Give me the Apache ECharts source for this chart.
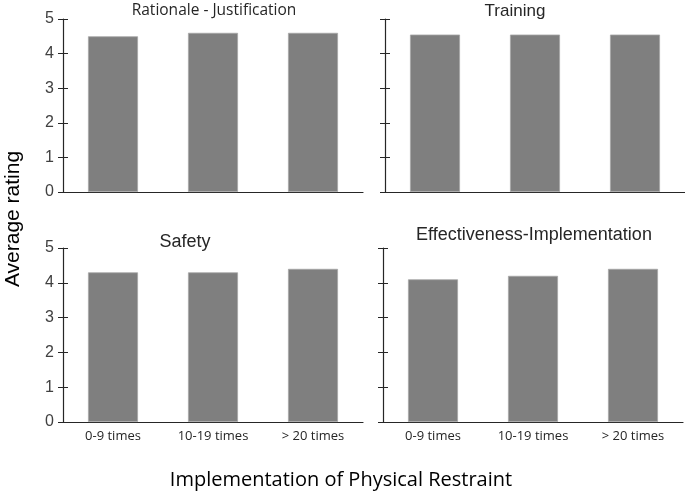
<!DOCTYPE html>
<html>
<head>
<meta charset="utf-8">
<script src="https://cdn.jsdelivr.net/npm/echarts@6/dist/echarts.min.js"></script>
<style>
  html, body { margin: 0; padding: 0; background: #fff; }
  #chart { width: 685px; height: 493px; }
</style>
</head>
<body>
<div id="chart"></div>
<script>
const categories = ['0-9 times', '10-19 times', '> 20 times'];
const panelTitles = ['Rationale - Justification', 'Training', 'Safety', 'Effectiveness-Implementation'];
const rationale = [4.5, 4.6, 4.6];
const training = [4.55, 4.55, 4.55];
const safety = [4.3, 4.3, 4.4];
const effectiveness = [4.1, 4.2, 4.4];
const yTicks = [0, 1, 2, 3, 4, 5];

const panelData = [rationale, training, safety, effectiveness];

// grid boxes for the 2x2 panels
const grids = [
  { left: 63, top: 19, width: 300, height: 173 },
  { left: 385, top: 19, width: 300, height: 173 },
  { left: 63, top: 248, width: 300, height: 174 },
  { left: 383, top: 248, width: 300, height: 174 }
];

const axisColor = '#262626';
const xAxis = [], yAxis = [], series = [];

grids.forEach((g, i) => {
  const bottomRow = i >= 2;
  const leftCol = i % 2 === 0;
  xAxis.push({
    gridIndex: i,
    type: 'category',
    data: categories,
    axisLine: { lineStyle: { color: axisColor, width: 1.2 } },
    axisTick: { show: false },
    axisLabel: {
      show: bottomRow,
      color: '#262626',
      fontFamily: 'Open Sans',
      fontSize: 13,
      margin: 8
    }
  });
  // outer ticks + labels
  yAxis.push({
    gridIndex: i,
    type: 'value',
    min: 0, max: 5, interval: 1,
    splitLine: { show: false },
    axisLine: { show: true, lineStyle: { color: axisColor, width: 1.2 } },
    axisTick: { show: true, length: 5, lineStyle: { color: axisColor } },
    axisLabel: {
      show: leftCol,
      color: '#404040',
      fontFamily: 'Liberation Sans',
      fontSize: 16,
      margin: 9,
      formatter: v => yTicks.includes(v) ? String(v) : ''
    }
  });
  // inner ticks so they cross the axis line
  yAxis.push({
    gridIndex: i,
    type: 'value',
    min: 0, max: 5, interval: 1,
    position: 'left',
    offset: 0,
    splitLine: { show: false },
    axisLine: { show: false },
    axisTick: { show: true, inside: true, length: 5, lineStyle: { color: axisColor } },
    axisLabel: { show: false }
  });
  series.push({
    type: 'bar',
    xAxisIndex: i,
    yAxisIndex: i * 2,
    data: panelData[i],
    barWidth: '50%',
    itemStyle: { color: '#7f7f7f', borderColor: '#a6a6a6', borderWidth: 0.8 },
    silent: true
  });
});

const titles = [
  { text: panelTitles[0], left: 209, top: -2, family: 'Open Sans', size: 15.5 },
  { text: panelTitles[1], left: 510, top: -2, family: 'Liberation Sans', size: 17 },
  { text: panelTitles[2], left: 180, top: 228, family: 'Liberation Sans', size: 18 },
  { text: panelTitles[3], left: 529, top: 221, family: 'Liberation Sans', size: 18 }
].map(t => ({
  text: t.text,
  left: t.left,
  top: t.top,
  textAlign: 'center',
  textStyle: { fontFamily: t.family, fontSize: t.size, fontWeight: 'normal', color: '#262626' }
}));

const chart = echarts.init(document.getElementById('chart'));
chart.setOption({
  animation: false,
  backgroundColor: '#fff',
  title: titles,
  grid: grids,
  xAxis: xAxis,
  yAxis: yAxis,
  series: series,
  graphic: [
    {
      type: 'text',
      x: 13, y: 219,
      rotation: Math.PI / 2,
      style: {
        text: 'Average rating',
        fill: '#000',
        font: '21px "Liberation Sans"',
        align: 'center',
        verticalAlign: 'middle'
      }
    },
    {
      type: 'text',
      x: 341, y: 480,
      style: {
        text: 'Implementation of Physical Restraint',
        fill: '#000',
        font: '20px "Open Sans"',
        align: 'center',
        verticalAlign: 'middle'
      }
    }
  ]
});
window.addEventListener('resize', () => chart.resize());
</script>
</body>
</html>
